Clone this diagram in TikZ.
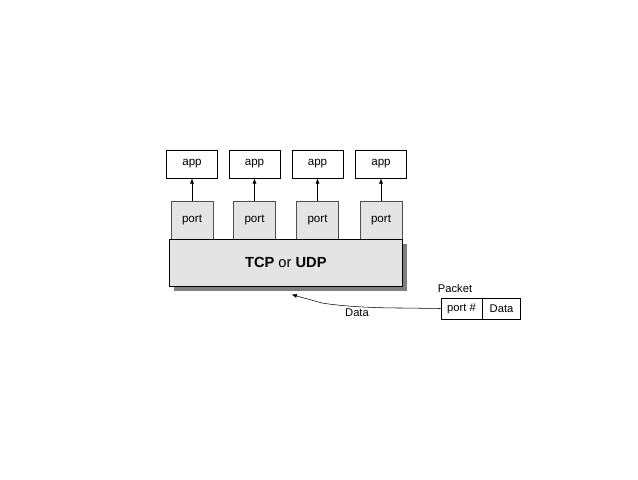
\documentclass[tikz,border=0pt]{standalone}
\usepackage{fontspec}
\setmainfont{Liberation Sans}
\usepackage{tikz}
\usetikzlibrary{arrows.meta}
\tikzset{>={Latex[width=3pt,length=4pt]}}
\definecolor{boxgray}{HTML}{E4E4E4}
\definecolor{shadegray}{HTML}{7F7F7F}
\definecolor{edgegray}{HTML}{505050}
\tikzset{
  appbox/.style={draw=black, fill=white, minimum width=38pt, minimum height=21pt, inner sep=0pt, font=\fontsize{8.7}{10}\selectfont},
  portbox/.style={draw=edgegray, fill=boxgray, minimum width=31.5pt, minimum height=28.5pt, inner sep=0pt, font=\fontsize{8.7}{10}\selectfont},
  cellbox/.style={draw=black, fill=white, minimum height=15.75pt, inner sep=0pt, font=\fontsize{8.4}{10}\selectfont},
  lbl/.style={inner sep=0pt, font=\fontsize{8.4}{10}\selectfont}
}

\begin{document}
\begin{tikzpicture}[x=0.75pt, y=-0.75pt]
	\useasboundingbox (0, 0) rectangle (638, 479);
	% apps
	\node[appbox] (app1) at (192, 164) {app};
	\node[appbox] (app2) at (254.5, 164) {app};
	\node[appbox] (app3) at (317.5, 164) {app};
	\node[appbox] (app4) at (381, 164) {app};
	% ports
	\node[portbox] (port1) at (192, 220) {port};
	\node[portbox] (port2) at (254.5, 220) {port};
	\node[portbox] (port3) at (317.5, 220) {port};
	\node[portbox] (port4) at (381, 220) {port};
	\draw[->] (port1.north) -- (app1.south);
	\draw[->] (port2.north) -- (app2.south);
	\draw[->] (port3.north) -- (app3.south);
	\draw[->] (port4.north) -- (app4.south);
	% transport layer
	\fill[shadegray] (173.5, 243.5) rectangle (406.5, 290.5);
	\node[draw=black, fill=boxgray, minimum width=174.75pt, minimum height=35pt, inner sep=0pt, font=\fontsize{11}{13}\selectfont] (tcp) at (285.8, 262.7) {\textbf{TCP} or \textbf{UDP}};
	% packet
	\node[cellbox, minimum width=30.75pt] (pktport) at (461.5, 308.5) {port \#};
	\node[cellbox, minimum width=28.5pt, anchor=west] (pktdata) at (pktport.east) {Data};
	\node[lbl] (pktlabel) at (455, 288) {Packet};
	\coordinate (entry) at (291.5, 294.5);
	\draw[->] (pktport.west) -- (402, 308) .. controls (370, 308) and (340, 306) .. (322, 303) -- (entry);
	\node[lbl] (datalabel) at (357, 313) {Data};
\end{tikzpicture}
\end{document}
